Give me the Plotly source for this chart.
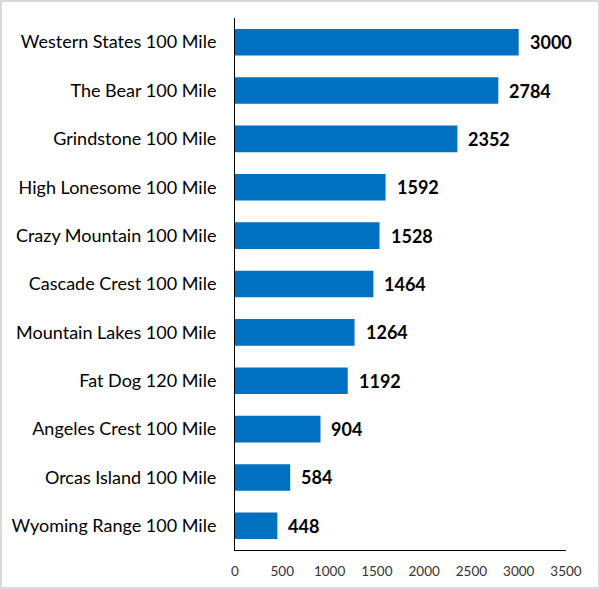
import plotly.graph_objects as go

races = ["Western States 100 Mile", "The Bear 100 Mile", "Grindstone 100 Mile",
         "High Lonesome 100 Mile", "Crazy Mountain 100 Mile", "Cascade Crest 100 Mile",
         "Mountain Lakes 100 Mile", "Fat Dog 120 Mile", "Angeles Crest 100 Mile",
         "Orcas Island 100 Mile", "Wyoming Range 100 Mile"]
values = [3000, 2784, 2352, 1592, 1528, 1464, 1264, 1192, 904, 584, 448]
x_ticks = [0, 500, 1000, 1500, 2000, 2500, 3000, 3500]

W, H = 600, 589
L, R, T, B = 235, 34, 18, 39
pw, ph = W - L - R, H - T - B

fig = go.Figure(go.Bar(
    x=values, y=races, orientation="h",
    marker=dict(color="#0070C0", line=dict(width=0)),
    width=0.55,
))

for r, v in zip(races, values):
    fig.add_annotation(x=v, y=r, text=f"<b>{v}</b>", showarrow=False,
                       xanchor="left", xshift=9,
                       font=dict(family="Lato", size=18, color="#000000"))

# light border around the whole image
fig.add_shape(type="rect", xref="paper", yref="paper",
              x0=(1 - L) / pw, x1=(W - 1 - L) / pw,
              y0=-(H - 1 - T - ph) / ph, y1=1 + (T - 1) / ph,
              line=dict(color="#d9d9d9", width=2), layer="below")

fig.update_layout(
    width=W, height=H,
    margin=dict(l=L, r=R, t=T, b=B, autoexpand=False),
    paper_bgcolor="white", plot_bgcolor="white",
    showlegend=False,
    font=dict(family="Lato", color="#000000"),
    xaxis=dict(range=[0, 3500], tickvals=x_ticks, ticktext=[str(t) for t in x_ticks],
               showgrid=False, zeroline=False, showline=True, linecolor="#000000",
               linewidth=1, ticks="", tickfont=dict(size=13.5, color="#333333"),
               ticklabelstandoff=9, automargin=False),
    yaxis=dict(categoryorder="array", categoryarray=races[::-1],
               range=[-0.5, 10.5], showgrid=False, zeroline=False,
               showline=True, linecolor="#000000", linewidth=1, ticks="",
               tickfont=dict(size=18, color="#000000"), ticklabelstandoff=14,
               automargin=False),
)

fig.write_html("out.html")
